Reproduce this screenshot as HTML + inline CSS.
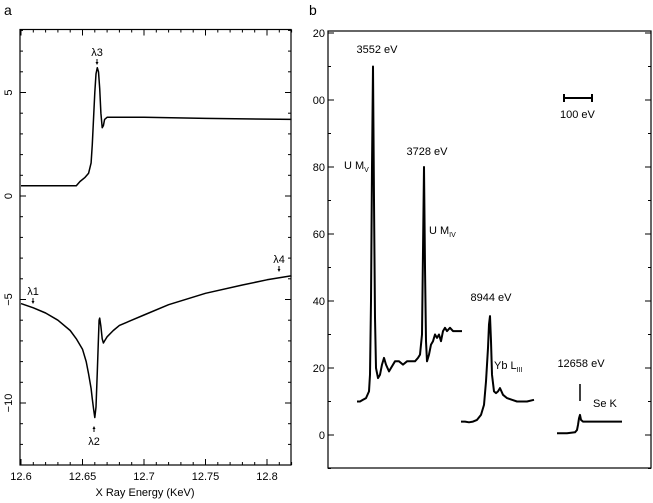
<!DOCTYPE html>
<html><head><meta charset="utf-8"><style>
body{margin:0;background:#fff}
svg{display:block;font-family:"Liberation Sans",sans-serif;font-size:11px}
</style></head><body>
<svg id="c" width="653" height="503">
<text x="4" y="15" font-size="14">a</text>
<text x="309" y="15" font-size="14">b</text>
<rect x="20" y="29.5" width="271" height="435.5" fill="none" stroke="#000" stroke-width="1.2"/>
<rect x="328" y="31" width="323" height="437" fill="none" stroke="#000" stroke-width="1.2"/>
<text x="145" y="496" text-anchor="middle">X Ray Energy (KeV)</text>
<g id="ga"></g><g id="gb"></g>
</svg>
<script>
// Panel a data
const aTopX=[12.6,12.645,12.648,12.652,12.655,12.657,12.658,12.659,12.66,12.661,12.662,12.663,12.664,12.665,12.666,12.667,12.668,12.67,12.7,12.75,12.82];
const aTopY=[0.5,0.5,0.7,0.9,1.1,1.6,2.5,3.8,5.0,5.9,6.2,6.0,5.2,4.0,3.3,3.4,3.7,3.8,3.8,3.75,3.7];
const aBotX=[12.6,12.61,12.62,12.63,12.64,12.645,12.65,12.653,12.655,12.657,12.658,12.659,12.66,12.661,12.662,12.663,12.6635,12.664,12.665,12.666,12.667,12.668,12.67,12.675,12.68,12.69,12.7,12.72,12.75,12.78,12.8,12.82];
const aBotY=[-5.2,-5.4,-5.65,-6.0,-6.5,-6.9,-7.4,-8.0,-8.6,-9.3,-9.8,-10.3,-10.7,-10.2,-8.5,-6.8,-6.0,-5.9,-6.3,-6.9,-7.1,-7.0,-6.8,-6.5,-6.25,-6.0,-5.75,-5.25,-4.7,-4.3,-4.05,-3.85];
const aXTicks=[12.6,12.65,12.7,12.75,12.8];
const aXTickLabels=["12.6","12.65","12.7","12.75","12.8"];
const aYTicks=[5,0,-5,-10];
const aYTickLabels=["5","0","\u22125","\u221210"];
// Panel b data (x in relative energy units)
const b1X=[0,3,6,9,12,13,14,15,16,17,18,19,21,23,25,27,29,32,34,38,42,46,50,54,58,61,63,65,66,67,68,69,70,72,74,76,78,80,82,84,86,88,90,93,96,100,105];
const b1Y=[10,10,10.5,11,13,18,40,80,110,70,35,20,17,18,21,23,21,19,20,22,22,21,22,22,22,23,24,30,55,80,50,28,22,24,27,28,30,29,30,28,31,32,31,32,31,31,31];
const b2X=[104,108,112,116,120,124,127,129,131,132,133,134,135,137,139,141,143,146,150,155,160,165,170,177];
const b2Y=[4,4,3.8,4,4.5,6,9,16,26,33,35.5,28,18,13,12.5,13,14,12,11,10.5,10,10,10,10.5];
const b3X=[200,210,218,220,221,222,223,224,226,240,265];
const b3Y=[0.5,0.5,0.8,1.5,3,5,6,4.5,4,4,4];
const bYTicks=[120,100,80,60,40,20,0];
const bYTickLabels=["20","00","80","60","40","20","0"];
const bLabelText=["3552 eV","3728 eV","8944 eV","12658 eV"];
const bLabelEv=[3552,3728,8944,12658];

const NS="http://www.w3.org/2000/svg";
function mk(t,a,p){const e=document.createElementNS(NS,t);for(const k in a)e.setAttribute(k,a[k]);p.appendChild(e);return e;}
const ga=document.getElementById('ga'),gb=document.getElementById('gb');
const ax=v=>21+(v-12.6)*1230, ay=v=>196-v*20.7;
const bx=v=>357+v, by=v=>435-v*3.35;
function path(X,Y,fx,fy,g,name,w){
 let d=X.map((x,i)=>(i?'L':'M')+fx(x).toFixed(1)+','+fy(Y[i]).toFixed(1)).join('');
 const p=mk('path',{d:d,fill:'none',stroke:'#000','stroke-width':w,'stroke-linejoin':'round'},g);
 
 
}
for(let v=12.6;v<=12.82;v+=0.01){const x=ax(v);const m=Math.round(v*100)%5===0;const L=m?6:3;
 mk('line',{x1:x,x2:x,y1:465,y2:465-L,stroke:'#000'},ga);mk('line',{x1:x,x2:x,y1:29.5,y2:29.5+L,stroke:'#000'},ga);}
for(let v=-12;v<=8;v++){const y=ay(v);const L=v%5===0?6:3;
 mk('line',{x1:20,x2:20+L,y1:y,y2:y,stroke:'#000'},ga);mk('line',{x1:291,x2:291-L,y1:y,y2:y,stroke:'#000'},ga);}
aXTicks.forEach((v,i)=>{const t=mk('text',{x:ax(v),y:480,'text-anchor':'middle'},ga);t.textContent=aXTickLabels[i];
 
 });
aYTicks.forEach((v,i)=>{const t=mk('text',{x:12,y:ay(v),'text-anchor':'middle',transform:`rotate(-90 12 ${ay(v)})`},ga);t.textContent=aYTickLabels[i];
 
 });
path(aTopX,aTopY,ax,ay,ga,'upper-curve',1.5);
path(aBotX,aBotY,ax,ay,ga,'lower-curve',1.5);
function lam(txt,x,y,up){const t=mk('text',{x:x,y:y,'text-anchor':'middle'},ga);t.textContent=txt;
 
 
 const ya=up?y-18:y+3;mk('line',{x1:x,x2:x,y1:ya,y2:ya+5,stroke:'#000'},ga);
 mk('path',{d:up?`M${x-1.5},${ya+2}L${x},${ya-1}L${x+1.5},${ya+2}Z`:`M${x-1.5},${ya+3}L${x},${ya+6}L${x+1.5},${ya+3}Z`},ga);}
lam('λ3',97,56,false);lam('λ1',33,295,false);lam('λ4',279,263,false);lam('λ2',94,445,true);
for(let v=-10;v<=120;v+=10){const y=by(v);const L=v%20===0?6:3;
 mk('line',{x1:328,x2:328+L,y1:y,y2:y,stroke:'#000'},gb);mk('line',{x1:651,x2:651-L,y1:y,y2:y,stroke:'#000'},gb);}
bYTicks.forEach((v,i)=>{const t=mk('text',{x:325,y:by(v)+4,'text-anchor':'end'},gb);t.textContent=bYTickLabels[i];
 
 });
path(b1X,b1Y,bx,by,gb,'uranium-m-spectrum',2);
path(b2X,b2Y,bx,by,gb,'yb-l3-spectrum',2);
path(b3X,b3Y,bx,by,gb,'se-k-spectrum',2);
const lblPos=[[377,53],[427,155],[491,301],[581,367]];
bLabelText.forEach((s,i)=>{const t=mk('text',{x:lblPos[i][0],y:lblPos[i][1],'text-anchor':'middle'},gb);t.textContent=s;
 
 });
mk('line',{x1:580,x2:580,y1:384,y2:401,stroke:'#000','stroke-width':1.5},gb);
</script>
<svg style="position:absolute;left:0;top:0" width="653" height="503" font-family="Liberation Sans, sans-serif" font-size="11">
<g stroke="#000" stroke-width="2"><line x1="563" x2="593" y1="98" y2="98"/><line x1="564" x2="564" y1="94" y2="102"/><line x1="592" x2="592" y1="94" y2="102"/></g>
<text x="560" y="118">100 eV</text>
<text x="344" y="169">U M<tspan font-size="7" dy="3">V</tspan></text>
<text x="429" y="234">U M<tspan font-size="7" dy="3">IV</tspan></text>
<text x="494" y="369">Yb  L<tspan font-size="7" dy="3">III</tspan></text>
<text x="593" y="407">Se K</text>
</svg>
</body></html>
